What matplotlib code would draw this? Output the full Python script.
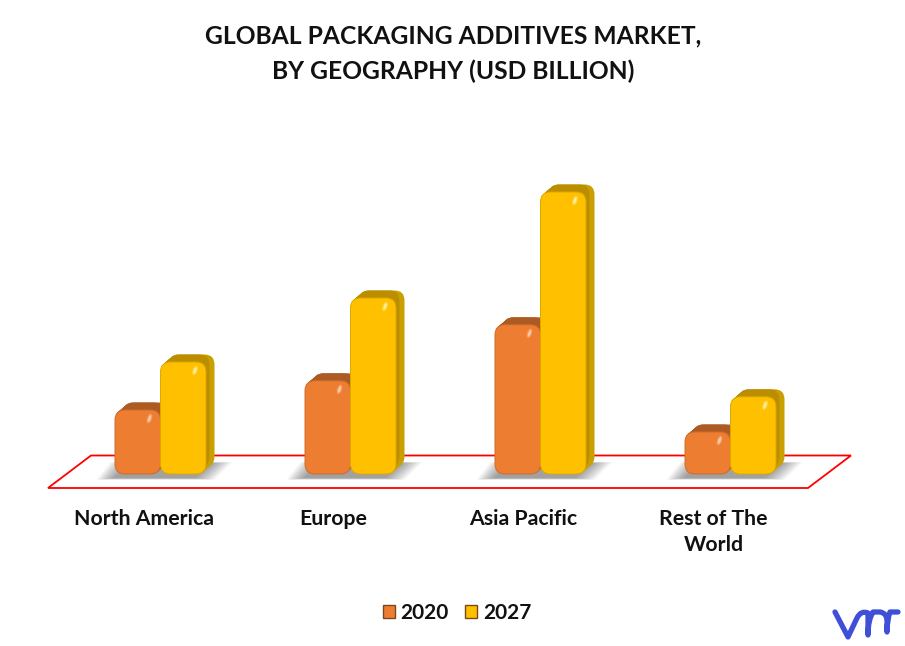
import matplotlib
matplotlib.use("Agg")
import matplotlib.pyplot as plt
import numpy as np
from matplotlib.patches import Ellipse, FancyBboxPatch, Patch, PathPatch, Polygon, Rectangle
from matplotlib.path import Path
from matplotlib.transforms import Affine2D

plt.rcParams["font.family"] = ["Lato", "DejaVu Sans"]

# values, no axis is printed so the scale is an estimate
regions = ["North America", "Europe", "Asia Pacific", "Rest of The\nWorld"]
years = ["2020", "2027"]
values_2020 = [1.6, 2.33, 3.73, 1.05]
values_2027 = [2.8, 4.4, 7.05, 1.93]

W, H = 905, 646
BASE_PX = 474      # pixel row of the bar feet
X0_PX = 160.5      # pixel column of first group centre
STEP_PX = 190
UNIT_PX = 40       # pixels per USD billion
BAR_PX = 45.5
DEPTH_X, DEPTH_Y = 8.5, 7.5
RADIUS = 10

FRONT = {"2020": "#ED7D31", "2027": "#FFC000"}
TOP = {"2020": "#AD5B24", "2027": "#BA8E00"}
SIDE = {"2020": "#B9602A", "2027": "#C9A000"}
EDGE = {"2020": "#CC6C2C", "2027": "#DDA800"}
SHINE = {"2020": "#FBC9A6", "2027": "#FFF0A0"}

fig = plt.figure(figsize=(W / 100, H / 100), dpi=100)
ax = fig.add_axes([0, 1 - BASE_PX / H, 1, BASE_PX / H])
ax.set_xlim(-X0_PX / STEP_PX, (W - X0_PX) / STEP_PX)
ax.set_ylim(0, BASE_PX / UNIT_PX)
for s in ax.spines.values():
    s.set_visible(False)
ax.patch.set_visible(False)
ax.set_yticks([])

# pixel coordinates for the decoration (floor, shadow, logo)
px = Affine2D().scale(1, -1).translate(0, H)

# floor
ax.add_patch(Polygon([(48, 488), (91, 455.5), (851, 455.5), (808, 488)], closed=True,
                     fc="white", ec="#FF0000", lw=1.3, transform=px, clip_on=False, zorder=1))


def add_shadow(i):
    cx = X0_PX + i * STEP_PX
    for k in range(12):
        grow = 18 - 1.6 * k
        left_b = cx - 46 - grow
        right_b = cx + 30 + grow * 1.1
        ax.add_patch(Polygon([(left_b, 478 + grow * 0.1), (left_b + 14, 463 - grow * 0.05),
                              (right_b + 22, 463 - grow * 0.05), (right_b + 4, 478 + grow * 0.1)],
                             closed=True, fc="#000000", ec="none", alpha=0.035,
                             transform=px, clip_on=False, zorder=2))


def add_bar(left, value, year, z):
    w = BAR_PX / STEP_PX
    aspect = STEP_PX / UNIT_PX
    r = RADIUS / STEP_PX
    dx, dy = DEPTH_X / STEP_PX, DEPTH_Y / UNIT_PX
    box = dict(boxstyle=f"round,pad=0,rounding_size={r}", mutation_aspect=aspect, clip_on=False)

    for t in np.linspace(1, 0.1, 10):
        ax.add_patch(FancyBboxPatch((left + dx * t, dy * t), w, value, fc=SIDE[year], ec="none",
                                    zorder=z, **box))
    clip = Rectangle((left - 0.2, value - 3 / UNIT_PX), w + 0.4, 1, transform=ax.transData)
    for t in np.linspace(1, 0.1, 10):
        p = FancyBboxPatch((left + dx * t, dy * t), w - dx * t * 0.6, value, fc=TOP[year], ec="none",
                           zorder=z, **box)
        ax.add_patch(p)
        p.set_clip_path(clip)

    ax.add_patch(FancyBboxPatch((left, 0), w, value, fc=FRONT[year], ec=EDGE[year], lw=0.7,
                                zorder=z + 0.1, **box))
    # little glint in the top right corner, tilted so drawn in screen units
    gx, gy = ax.transData.transform((left + w - 11 / STEP_PX, value - 8.5 / UNIT_PX))
    at = Affine2D().translate(gx, gy)
    ax.add_patch(Ellipse((0, 0), 5, 10, angle=-20, fc=SHINE[year], ec="none", alpha=0.4,
                         transform=at, zorder=z + 0.2, clip_on=False))
    ax.add_patch(Ellipse((0, 0), 2.5, 7, angle=-20, fc=SHINE[year], ec="none",
                         transform=at, zorder=z + 0.3, clip_on=False))


x = np.arange(len(regions))
for i in x:
    add_shadow(i)
    add_bar(i - BAR_PX / STEP_PX, values_2020[i], "2020", 3)
    add_bar(i, values_2027[i], "2027", 4)

# category labels sit left of the bars because of the floor perspective
ax.set_xticks(x - 17 / STEP_PX)
ax.set_xticklabels(regions, fontsize=15.3, fontweight="bold", color="#111111", linespacing=1.42)
ax.tick_params(axis="x", length=0, pad=25)

fig.text(453 / W, 1 - 54 / H, "GLOBAL PACKAGING ADDITIVES MARKET,\nBY GEOGRAPHY (USD BILLION)",
         ha="center", va="center", fontsize=17.7, fontweight="bold", color="#111111", linespacing=1.6)

handles = [Patch(fc=FRONT[y], ec="#7A4A1E", lw=1, label=y) for y in years]
fig.legend(handles=handles, loc="center", bbox_to_anchor=(457 / W, 1 - 613 / H), ncol=2, frameon=False,
           prop={"size": 15, "weight": "bold"}, handlelength=0.58, handleheight=0.58,
           handletextpad=0.29, columnspacing=0.77, labelcolor="#111111")

# logo
logo = Path([(835, 612), (848, 637), (857, 618), (861, 610), (868, 613), (868, 622), (868, 635),
             (868, 620), (873, 612), (880, 612), (887, 613), (887, 621), (887, 632),
             (887, 620), (890, 612), (898, 612)],
            [Path.MOVETO, Path.LINETO, Path.LINETO, Path.CURVE3, Path.CURVE3, Path.CURVE3, Path.LINETO,
             Path.CURVE3, Path.CURVE3, Path.LINETO, Path.CURVE3, Path.CURVE3, Path.LINETO,
             Path.CURVE3, Path.CURVE3, Path.LINETO])
ax.add_patch(PathPatch(logo, fc="none", ec="#3F4FD8", lw=3.8, capstyle="round", joinstyle="round",
                       transform=px, clip_on=False, zorder=5))

fig.savefig("out.png", dpi=100)
